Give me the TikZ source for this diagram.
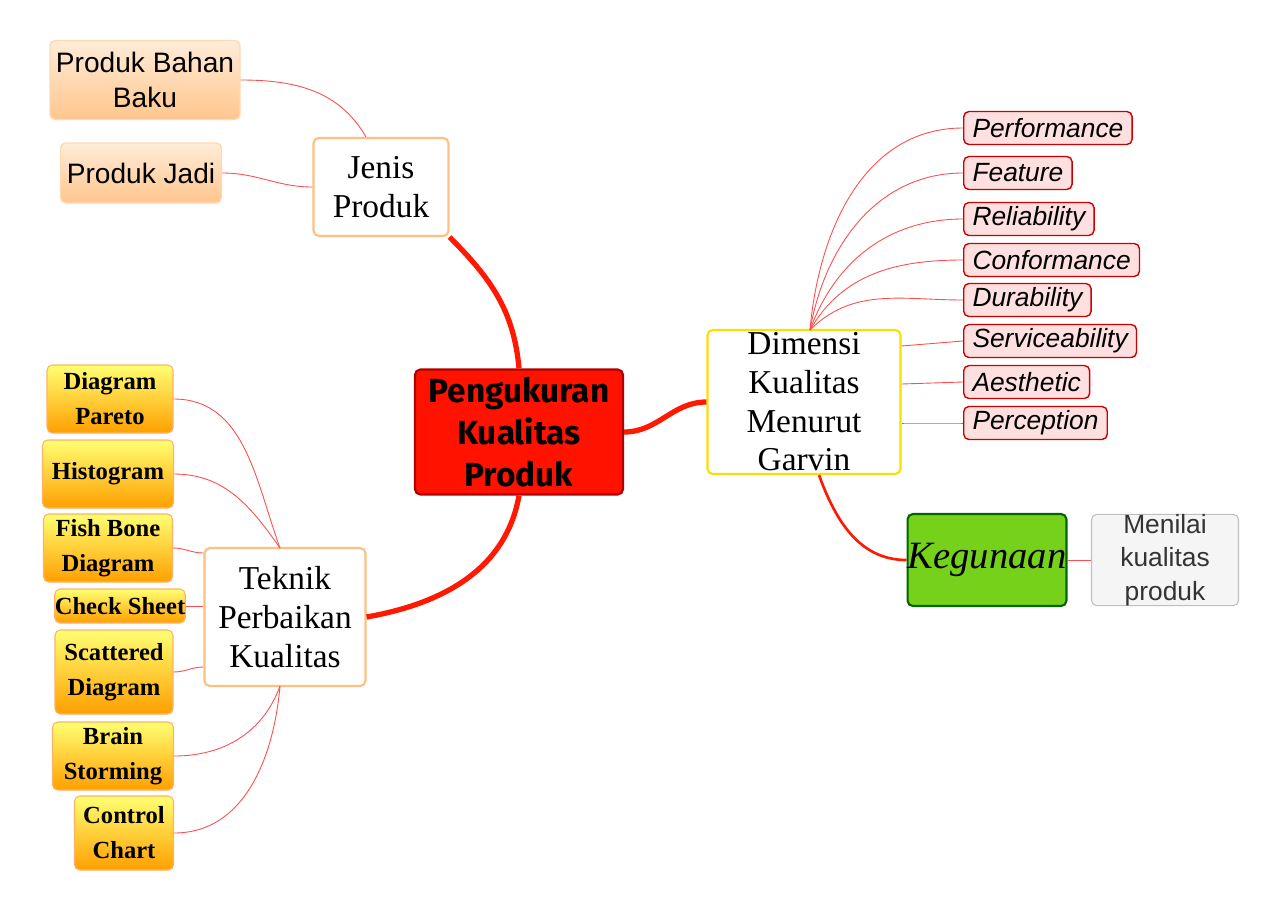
\documentclass[tikz,border=0pt]{standalone}
\usepackage{fontspec}
\setmainfont{DejaVu Serif}
\newfontfamily\lsans{Liberation Sans}
\newfontfamily\lserif{Liberation Serif}
\newfontfamily\fira{Fira Sans}
\begin{document}
\begin{tikzpicture}[x=0.02cm,y=-0.02cm,
 box/.style={draw,rounded corners=3pt,line width=1.2pt,align=center,inner sep=0pt},
 lvl/.style={box,draw=orange!50,fill=white,font=\lserif\fontsize{19}{22}\selectfont},
 orng/.style={box,draw=orange!30,line width=0.8pt,top color=orange!15,bottom color=orange!45,font=\lsans\fontsize{16}{20}\selectfont},
 pink/.style={box,draw=red!80!black,line width=0.8pt,fill=red!12,font=\lsans\itshape\fontsize{15}{18}\selectfont,anchor=west,inner xsep=5pt},
 yel/.style={box,draw=orange!60,line width=0.6pt,top color=yellow!55,bottom color=orange!75!yellow,font=\lserif\bfseries\fontsize{14}{20}\selectfont},
 thin/.style={red!70,line width=0.5pt},
 thick/.style={red!80!orange,line width=3pt}]
\useasboundingbox (0,0) rectangle (1277,913);
\node[box,draw=red!70!black,fill=red!85!orange,minimum width=208*0.02cm,minimum height=125*0.02cm,font=\fira\bfseries\fontsize{19}{24}\selectfont] (c) at (519,432) {Pengukuran\\Kualitas\\Produk};
\node[lvl,minimum width=135*0.02cm,minimum height=98*0.02cm] (j) at (381,187) {Jenis\\Produk};
\node[orng,minimum width=190*0.02cm,minimum height=79*0.02cm] (pb) at (145,80) {Produk Bahan\\Baku};
\node[orng,minimum width=161*0.02cm,minimum height=60*0.02cm] (pj) at (141,173) {Produk Jadi};
\node[lvl,draw=yellow!80!orange,minimum width=193*0.02cm,minimum height=144*0.02cm] (d) at (804,402) {Dimensi\\Kualitas\\Menurut\\Garvin};
\node[lvl,minimum width=161*0.02cm,minimum height=138*0.02cm] (t) at (285,617) {Teknik\\Perbaikan\\Kualitas};
\node[box,draw=green!40!black,fill=green!50!yellow!80!black!90,minimum width=144*0.02cm,minimum height=92*0.02cm,font=\lserif\itshape\fontsize{22}{26}\selectfont] (k) at (987,560) {Kegunaan};
\node[box,draw=gray!50,line width=0.6pt,fill=gray!8,minimum width=147*0.02cm,minimum height=80*0.02cm,font=\lsans\fontsize{15}{19}\selectfont,text=black!80] (m) at (1165,560) {Menilai\\kualitas\\produk};
\foreach \n/\t/\y/\w in {p1/Performance/128/150,p2/Feature/173/96,p3/Reliability/219/119,p4/Conformance/260/149,p5/Durability/300/116,p6/Serviceability/341/158,p7/Aesthetic/382/113,p8/Perception/423/129}
 \node[pink,minimum width=\w*0.02cm,minimum height=33*0.02cm] (\n) at (963,\y) {\t};
\node[yel,minimum width=126*0.02cm,minimum height=68*0.02cm] (y1) at (110,399) {Diagram\\Pareto};
\node[yel,minimum width=131*0.02cm,minimum height=68*0.02cm] (y2) at (108,474) {Histogram};
\node[yel,minimum width=129*0.02cm,minimum height=68*0.02cm] (y3) at (108,548) {Fish Bone\\Diagram};
\node[yel,minimum width=107*0.02cm,minimum height=34*0.02cm] (y4) at (120,606) {Check Sheet};
\node[yel,minimum width=118*0.02cm,minimum height=84*0.02cm] (y5) at (114,672) {Scattered\\Diagram};
\node[yel,minimum width=121*0.02cm,minimum height=68*0.02cm] (y6) at (113,756) {Brain\\Storming};
\node[yel,minimum width=99*0.02cm,minimum height=74*0.02cm] (y7) at (124,833) {Control\\Chart};
% thick
\draw[thick] (c.north) to[out=95,in=-45] (j.south east);
\draw[thick] (c.east) to[out=0,in=180] (d.west);
\draw[thick] (c.south) to[out=-100,in=10] (t.east);
\draw[red!80!orange,line width=1.5pt] (d.south) ++(15,0) coordinate (ds) to[out=-70,in=180] (k.west);
\draw[thin] (k.east) -- (m.west);
% thin
\draw[thin] (j.north) ++(-15,0) to[out=120,in=0] (pb.east);
\draw[thin] (j.west) to[out=180,in=0] (pj.east);
\coordinate (dt) at (810,330);
\foreach \n/\o in {p1/85,p2/80,p3/70,p4/60,p5/45}
 \draw[thin] (dt) to[out=\o,in=180] (\n.west);
\draw[thin] (d.east|-p6.west) ++(0,5) -- (p6.west);
\draw[thin] (d.east|-p7.west) ++(0,2) -- (p7.west);
\draw[thin] (d.east|-p8.west) to[out=0,in=180] (p8.west);
\coordinate (tt) at (280,548);
\coordinate (tb) at (280,686);
\draw[thin] (tt) to[out=110,in=0] (y1.east);
\draw[thin] (tt) to[out=125,in=0] (y2.east);
\draw[thin] (t.west|-y3.east) ++(0,5) to[out=180,in=0] (y3.east);
\draw[thin] (t.west|-y4.east) -- (y4.east);
\draw[thin] (t.west) ++(0,50) to[out=180,in=0] (y5.east);
\draw[thin] (tb) to[out=-110,in=0] (y6.east);
\draw[thin] (tb) to[out=-95,in=0] (y7.east);
\end{tikzpicture}
\end{document}
